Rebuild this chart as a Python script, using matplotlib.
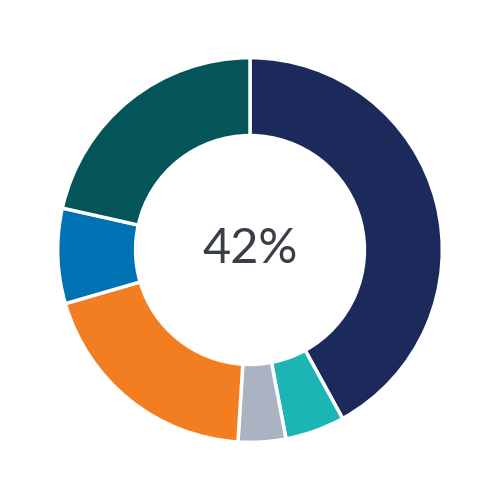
import matplotlib.pyplot as plt

labels = ['Navy', 'Teal', 'Gray', 'Orange', 'Blue', 'Green']
values = [42, 5, 4, 19.5, 8, 21.5]
colors = ['#1b2a5a', '#1cb5b5', '#a9b3c1', '#f37d21', '#0072b4', '#04545a']

fig = plt.figure(figsize=(5, 5), dpi=100)
ax = fig.add_axes([0, 0, 1, 1])
ax.pie(values, colors=colors, startangle=90, counterclock=False,
       wedgeprops=dict(width=0.405, edgecolor='white', linewidth=2.5))
ax.text(0, 0.005, '42%', ha='center', va='center', fontsize=35,
        color='#3a3f47', family='Lato', fontweight='normal')
ax.set_xlim(-1.3, 1.3)
ax.set_ylim(-1.3, 1.3)
ax.set_aspect('equal')
ax.axis('off')
fig.savefig('out.png', dpi=100, facecolor='white')
